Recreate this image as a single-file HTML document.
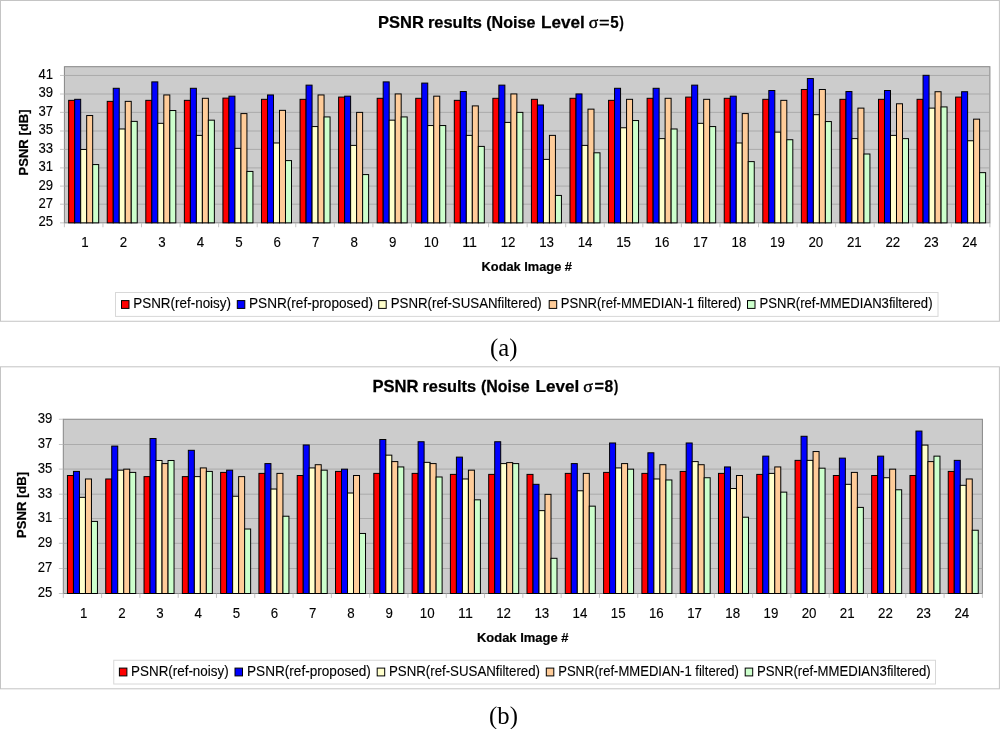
<!DOCTYPE html>
<html><head><meta charset="utf-8"><title>PSNR results</title>
<style>
html,body{margin:0;padding:0;background:#fff}
svg{display:block}
text{font-family:"Liberation Sans",sans-serif;fill:#000}
.t{font-size:13.9px;stroke:#000;stroke-width:0.12px}
.lt{font-size:14px;stroke:#000;stroke-width:0.12px}
.b{font-size:12.9px;font-weight:bold;stroke:#000;stroke-width:0.2px}
.title{font-size:16.6px;font-weight:bold;stroke:#000;stroke-width:0.25px}
.cap{font-family:"Liberation Serif",serif;font-size:24.7px}
</style></head><body>
<svg width="1000" height="729" viewBox="0 0 1000 729">
<rect width="1000" height="729" fill="#fff"/>
<rect x="0.5" y="0.5" width="998.9" height="320.75" fill="#fff" stroke="#c4c4c4" stroke-width="1"/>
<rect x="64.4" y="66.7" width="925.5" height="156.14999999999998" fill="#cccccc" stroke="#858585" stroke-width="1"/>
<line x1="60.00000000000001" y1="222.85" x2="64.4" y2="222.85" stroke="#b8b8b8" stroke-width="0.8"/>
<text x="38.4" y="226.25" class="t" textLength="14.6" lengthAdjust="spacingAndGlyphs">25</text>
<line x1="64.4" y1="204.20" x2="989.9" y2="204.20" stroke="#a2a2a2" stroke-width="0.8"/>
<line x1="60.00000000000001" y1="204.20" x2="64.4" y2="204.20" stroke="#b8b8b8" stroke-width="0.8"/>
<text x="38.4" y="207.60" class="t" textLength="14.6" lengthAdjust="spacingAndGlyphs">27</text>
<line x1="64.4" y1="186.10" x2="989.9" y2="186.10" stroke="#a2a2a2" stroke-width="0.8"/>
<line x1="60.00000000000001" y1="186.10" x2="64.4" y2="186.10" stroke="#b8b8b8" stroke-width="0.8"/>
<text x="38.4" y="189.50" class="t" textLength="14.6" lengthAdjust="spacingAndGlyphs">29</text>
<line x1="64.4" y1="167.90" x2="989.9" y2="167.90" stroke="#a2a2a2" stroke-width="0.8"/>
<line x1="60.00000000000001" y1="167.90" x2="64.4" y2="167.90" stroke="#b8b8b8" stroke-width="0.8"/>
<text x="38.4" y="171.30" class="t" textLength="14.6" lengthAdjust="spacingAndGlyphs">31</text>
<line x1="64.4" y1="149.40" x2="989.9" y2="149.40" stroke="#a2a2a2" stroke-width="0.8"/>
<line x1="60.00000000000001" y1="149.40" x2="64.4" y2="149.40" stroke="#b8b8b8" stroke-width="0.8"/>
<text x="38.4" y="152.80" class="t" textLength="14.6" lengthAdjust="spacingAndGlyphs">33</text>
<line x1="64.4" y1="131.00" x2="989.9" y2="131.00" stroke="#a2a2a2" stroke-width="0.8"/>
<line x1="60.00000000000001" y1="131.00" x2="64.4" y2="131.00" stroke="#b8b8b8" stroke-width="0.8"/>
<text x="38.4" y="134.40" class="t" textLength="14.6" lengthAdjust="spacingAndGlyphs">35</text>
<line x1="64.4" y1="112.35" x2="989.9" y2="112.35" stroke="#a2a2a2" stroke-width="0.8"/>
<line x1="60.00000000000001" y1="112.35" x2="64.4" y2="112.35" stroke="#b8b8b8" stroke-width="0.8"/>
<text x="38.4" y="115.75" class="t" textLength="14.6" lengthAdjust="spacingAndGlyphs">37</text>
<line x1="64.4" y1="94.00" x2="989.9" y2="94.00" stroke="#a2a2a2" stroke-width="0.8"/>
<line x1="60.00000000000001" y1="94.00" x2="64.4" y2="94.00" stroke="#b8b8b8" stroke-width="0.8"/>
<text x="38.4" y="97.40" class="t" textLength="14.6" lengthAdjust="spacingAndGlyphs">39</text>
<line x1="64.4" y1="75.45" x2="989.9" y2="75.45" stroke="#a2a2a2" stroke-width="0.8"/>
<line x1="60.00000000000001" y1="75.45" x2="64.4" y2="75.45" stroke="#b8b8b8" stroke-width="0.8"/>
<text x="38.4" y="78.85" class="t" textLength="14.6" lengthAdjust="spacingAndGlyphs">41</text>
<line x1="64.40" y1="222.85" x2="64.40" y2="227.25" stroke="#b8b8b8" stroke-width="0.8"/>
<line x1="102.96" y1="222.85" x2="102.96" y2="227.25" stroke="#b8b8b8" stroke-width="0.8"/>
<line x1="141.53" y1="222.85" x2="141.53" y2="227.25" stroke="#b8b8b8" stroke-width="0.8"/>
<line x1="180.09" y1="222.85" x2="180.09" y2="227.25" stroke="#b8b8b8" stroke-width="0.8"/>
<line x1="218.65" y1="222.85" x2="218.65" y2="227.25" stroke="#b8b8b8" stroke-width="0.8"/>
<line x1="257.21" y1="222.85" x2="257.21" y2="227.25" stroke="#b8b8b8" stroke-width="0.8"/>
<line x1="295.77" y1="222.85" x2="295.77" y2="227.25" stroke="#b8b8b8" stroke-width="0.8"/>
<line x1="334.34" y1="222.85" x2="334.34" y2="227.25" stroke="#b8b8b8" stroke-width="0.8"/>
<line x1="372.90" y1="222.85" x2="372.90" y2="227.25" stroke="#b8b8b8" stroke-width="0.8"/>
<line x1="411.46" y1="222.85" x2="411.46" y2="227.25" stroke="#b8b8b8" stroke-width="0.8"/>
<line x1="450.02" y1="222.85" x2="450.02" y2="227.25" stroke="#b8b8b8" stroke-width="0.8"/>
<line x1="488.59" y1="222.85" x2="488.59" y2="227.25" stroke="#b8b8b8" stroke-width="0.8"/>
<line x1="527.15" y1="222.85" x2="527.15" y2="227.25" stroke="#b8b8b8" stroke-width="0.8"/>
<line x1="565.71" y1="222.85" x2="565.71" y2="227.25" stroke="#b8b8b8" stroke-width="0.8"/>
<line x1="604.27" y1="222.85" x2="604.27" y2="227.25" stroke="#b8b8b8" stroke-width="0.8"/>
<line x1="642.84" y1="222.85" x2="642.84" y2="227.25" stroke="#b8b8b8" stroke-width="0.8"/>
<line x1="681.40" y1="222.85" x2="681.40" y2="227.25" stroke="#b8b8b8" stroke-width="0.8"/>
<line x1="719.96" y1="222.85" x2="719.96" y2="227.25" stroke="#b8b8b8" stroke-width="0.8"/>
<line x1="758.52" y1="222.85" x2="758.52" y2="227.25" stroke="#b8b8b8" stroke-width="0.8"/>
<line x1="797.09" y1="222.85" x2="797.09" y2="227.25" stroke="#b8b8b8" stroke-width="0.8"/>
<line x1="835.65" y1="222.85" x2="835.65" y2="227.25" stroke="#b8b8b8" stroke-width="0.8"/>
<line x1="874.21" y1="222.85" x2="874.21" y2="227.25" stroke="#b8b8b8" stroke-width="0.8"/>
<line x1="912.77" y1="222.85" x2="912.77" y2="227.25" stroke="#b8b8b8" stroke-width="0.8"/>
<line x1="951.34" y1="222.85" x2="951.34" y2="227.25" stroke="#b8b8b8" stroke-width="0.8"/>
<line x1="989.90" y1="222.85" x2="989.90" y2="227.25" stroke="#b8b8b8" stroke-width="0.8"/>
<rect x="68.68" y="100.34" width="6" height="122.51" fill="#ff0000" stroke="#000" stroke-width="1"/>
<rect x="74.68" y="99.32" width="6" height="123.53" fill="#0000ff" stroke="#000" stroke-width="1"/>
<rect x="80.68" y="149.46" width="6" height="73.39" fill="#ffffcc" stroke="#000" stroke-width="1"/>
<rect x="86.68" y="115.54" width="6" height="107.31" fill="#ffcc99" stroke="#000" stroke-width="1"/>
<rect x="92.68" y="164.57" width="6" height="58.28" fill="#ccffcc" stroke="#000" stroke-width="1"/>
<text x="81.25" y="247" class="t" textLength="7.4" lengthAdjust="spacingAndGlyphs">1</text>
<rect x="107.24" y="101.36" width="6" height="121.49" fill="#ff0000" stroke="#000" stroke-width="1"/>
<rect x="113.24" y="88.29" width="6" height="134.56" fill="#0000ff" stroke="#000" stroke-width="1"/>
<rect x="119.24" y="128.98" width="6" height="93.87" fill="#ffffcc" stroke="#000" stroke-width="1"/>
<rect x="125.24" y="101.36" width="6" height="121.49" fill="#ffcc99" stroke="#000" stroke-width="1"/>
<rect x="131.24" y="121.38" width="6" height="101.47" fill="#ccffcc" stroke="#000" stroke-width="1"/>
<text x="119.72" y="247" class="t" textLength="7.4" lengthAdjust="spacingAndGlyphs">2</text>
<rect x="145.81" y="100.34" width="6" height="122.51" fill="#ff0000" stroke="#000" stroke-width="1"/>
<rect x="151.81" y="81.89" width="6" height="140.96" fill="#0000ff" stroke="#000" stroke-width="1"/>
<rect x="157.81" y="123.33" width="6" height="99.52" fill="#ffffcc" stroke="#000" stroke-width="1"/>
<rect x="163.81" y="94.96" width="6" height="127.89" fill="#ffcc99" stroke="#000" stroke-width="1"/>
<rect x="169.81" y="110.53" width="6" height="112.32" fill="#ccffcc" stroke="#000" stroke-width="1"/>
<text x="158.19" y="247" class="t" textLength="7.4" lengthAdjust="spacingAndGlyphs">3</text>
<rect x="184.37" y="100.34" width="6" height="122.51" fill="#ff0000" stroke="#000" stroke-width="1"/>
<rect x="190.37" y="88.29" width="6" height="134.56" fill="#0000ff" stroke="#000" stroke-width="1"/>
<rect x="196.37" y="135.38" width="6" height="87.47" fill="#ffffcc" stroke="#000" stroke-width="1"/>
<rect x="202.37" y="98.30" width="6" height="124.55" fill="#ffcc99" stroke="#000" stroke-width="1"/>
<rect x="208.37" y="120.17" width="6" height="102.68" fill="#ccffcc" stroke="#000" stroke-width="1"/>
<text x="196.66" y="247" class="t" textLength="7.4" lengthAdjust="spacingAndGlyphs">4</text>
<rect x="222.93" y="98.11" width="6" height="124.74" fill="#ff0000" stroke="#000" stroke-width="1"/>
<rect x="228.93" y="96.17" width="6" height="126.68" fill="#0000ff" stroke="#000" stroke-width="1"/>
<rect x="234.93" y="148.35" width="6" height="74.50" fill="#ffffcc" stroke="#000" stroke-width="1"/>
<rect x="240.93" y="113.59" width="6" height="109.26" fill="#ffcc99" stroke="#000" stroke-width="1"/>
<rect x="246.93" y="171.43" width="6" height="51.42" fill="#ccffcc" stroke="#000" stroke-width="1"/>
<text x="235.13" y="247" class="t" textLength="7.4" lengthAdjust="spacingAndGlyphs">5</text>
<rect x="261.49" y="99.32" width="6" height="123.53" fill="#ff0000" stroke="#000" stroke-width="1"/>
<rect x="267.49" y="94.96" width="6" height="127.89" fill="#0000ff" stroke="#000" stroke-width="1"/>
<rect x="273.49" y="142.98" width="6" height="79.87" fill="#ffffcc" stroke="#000" stroke-width="1"/>
<rect x="279.49" y="110.35" width="6" height="112.50" fill="#ffcc99" stroke="#000" stroke-width="1"/>
<rect x="285.49" y="160.59" width="6" height="62.26" fill="#ccffcc" stroke="#000" stroke-width="1"/>
<text x="273.60" y="247" class="t" textLength="7.4" lengthAdjust="spacingAndGlyphs">6</text>
<rect x="300.06" y="99.32" width="6" height="123.53" fill="#ff0000" stroke="#000" stroke-width="1"/>
<rect x="306.06" y="85.14" width="6" height="137.71" fill="#0000ff" stroke="#000" stroke-width="1"/>
<rect x="312.06" y="126.57" width="6" height="96.28" fill="#ffffcc" stroke="#000" stroke-width="1"/>
<rect x="318.06" y="94.96" width="6" height="127.89" fill="#ffcc99" stroke="#000" stroke-width="1"/>
<rect x="324.06" y="116.93" width="6" height="105.92" fill="#ccffcc" stroke="#000" stroke-width="1"/>
<text x="312.07" y="247" class="t" textLength="7.4" lengthAdjust="spacingAndGlyphs">7</text>
<rect x="338.62" y="97.09" width="6" height="125.76" fill="#ff0000" stroke="#000" stroke-width="1"/>
<rect x="344.62" y="96.17" width="6" height="126.68" fill="#0000ff" stroke="#000" stroke-width="1"/>
<rect x="350.62" y="145.39" width="6" height="77.46" fill="#ffffcc" stroke="#000" stroke-width="1"/>
<rect x="356.62" y="112.39" width="6" height="110.46" fill="#ffcc99" stroke="#000" stroke-width="1"/>
<rect x="362.62" y="174.58" width="6" height="48.27" fill="#ccffcc" stroke="#000" stroke-width="1"/>
<text x="350.54" y="247" class="t" textLength="7.4" lengthAdjust="spacingAndGlyphs">8</text>
<rect x="377.18" y="98.30" width="6" height="124.55" fill="#ff0000" stroke="#000" stroke-width="1"/>
<rect x="383.18" y="81.89" width="6" height="140.96" fill="#0000ff" stroke="#000" stroke-width="1"/>
<rect x="389.18" y="120.17" width="6" height="102.68" fill="#ffffcc" stroke="#000" stroke-width="1"/>
<rect x="395.18" y="93.94" width="6" height="128.91" fill="#ffcc99" stroke="#000" stroke-width="1"/>
<rect x="401.18" y="116.93" width="6" height="105.92" fill="#ccffcc" stroke="#000" stroke-width="1"/>
<text x="389.01" y="247" class="t" textLength="7.4" lengthAdjust="spacingAndGlyphs">9</text>
<rect x="415.74" y="98.30" width="6" height="124.55" fill="#ff0000" stroke="#000" stroke-width="1"/>
<rect x="421.74" y="83.10" width="6" height="139.75" fill="#0000ff" stroke="#000" stroke-width="1"/>
<rect x="427.74" y="125.55" width="6" height="97.30" fill="#ffffcc" stroke="#000" stroke-width="1"/>
<rect x="433.74" y="96.17" width="6" height="126.68" fill="#ffcc99" stroke="#000" stroke-width="1"/>
<rect x="439.74" y="125.55" width="6" height="97.30" fill="#ccffcc" stroke="#000" stroke-width="1"/>
<text x="423.78" y="247" class="t" textLength="14.8" lengthAdjust="spacingAndGlyphs">10</text>
<rect x="454.31" y="100.34" width="6" height="122.51" fill="#ff0000" stroke="#000" stroke-width="1"/>
<rect x="460.31" y="91.53" width="6" height="131.32" fill="#0000ff" stroke="#000" stroke-width="1"/>
<rect x="466.31" y="135.38" width="6" height="87.47" fill="#ffffcc" stroke="#000" stroke-width="1"/>
<rect x="472.31" y="105.90" width="6" height="116.95" fill="#ffcc99" stroke="#000" stroke-width="1"/>
<rect x="478.31" y="146.41" width="6" height="76.44" fill="#ccffcc" stroke="#000" stroke-width="1"/>
<text x="462.25" y="247" class="t" textLength="14.8" lengthAdjust="spacingAndGlyphs">11</text>
<rect x="492.87" y="98.30" width="6" height="124.55" fill="#ff0000" stroke="#000" stroke-width="1"/>
<rect x="498.87" y="85.14" width="6" height="137.71" fill="#0000ff" stroke="#000" stroke-width="1"/>
<rect x="504.87" y="122.40" width="6" height="100.45" fill="#ffffcc" stroke="#000" stroke-width="1"/>
<rect x="510.87" y="93.94" width="6" height="128.91" fill="#ffcc99" stroke="#000" stroke-width="1"/>
<rect x="516.87" y="112.39" width="6" height="110.46" fill="#ccffcc" stroke="#000" stroke-width="1"/>
<text x="500.72" y="247" class="t" textLength="14.8" lengthAdjust="spacingAndGlyphs">12</text>
<rect x="531.43" y="99.32" width="6" height="123.53" fill="#ff0000" stroke="#000" stroke-width="1"/>
<rect x="537.43" y="104.97" width="6" height="117.88" fill="#0000ff" stroke="#000" stroke-width="1"/>
<rect x="543.43" y="159.38" width="6" height="63.47" fill="#ffffcc" stroke="#000" stroke-width="1"/>
<rect x="549.43" y="135.38" width="6" height="87.47" fill="#ffcc99" stroke="#000" stroke-width="1"/>
<rect x="555.43" y="195.44" width="6" height="27.41" fill="#ccffcc" stroke="#000" stroke-width="1"/>
<text x="539.19" y="247" class="t" textLength="14.8" lengthAdjust="spacingAndGlyphs">13</text>
<rect x="569.99" y="98.30" width="6" height="124.55" fill="#ff0000" stroke="#000" stroke-width="1"/>
<rect x="575.99" y="93.94" width="6" height="128.91" fill="#0000ff" stroke="#000" stroke-width="1"/>
<rect x="581.99" y="145.39" width="6" height="77.46" fill="#ffffcc" stroke="#000" stroke-width="1"/>
<rect x="587.99" y="109.14" width="6" height="113.71" fill="#ffcc99" stroke="#000" stroke-width="1"/>
<rect x="593.99" y="152.80" width="6" height="70.05" fill="#ccffcc" stroke="#000" stroke-width="1"/>
<text x="577.66" y="247" class="t" textLength="14.8" lengthAdjust="spacingAndGlyphs">14</text>
<rect x="608.56" y="100.34" width="6" height="122.51" fill="#ff0000" stroke="#000" stroke-width="1"/>
<rect x="614.56" y="88.29" width="6" height="134.56" fill="#0000ff" stroke="#000" stroke-width="1"/>
<rect x="620.56" y="127.77" width="6" height="95.08" fill="#ffffcc" stroke="#000" stroke-width="1"/>
<rect x="626.56" y="99.32" width="6" height="123.53" fill="#ffcc99" stroke="#000" stroke-width="1"/>
<rect x="632.56" y="120.54" width="6" height="102.31" fill="#ccffcc" stroke="#000" stroke-width="1"/>
<text x="616.13" y="247" class="t" textLength="14.8" lengthAdjust="spacingAndGlyphs">15</text>
<rect x="647.12" y="98.30" width="6" height="124.55" fill="#ff0000" stroke="#000" stroke-width="1"/>
<rect x="653.12" y="88.29" width="6" height="134.56" fill="#0000ff" stroke="#000" stroke-width="1"/>
<rect x="659.12" y="138.62" width="6" height="84.23" fill="#ffffcc" stroke="#000" stroke-width="1"/>
<rect x="665.12" y="98.30" width="6" height="124.55" fill="#ffcc99" stroke="#000" stroke-width="1"/>
<rect x="671.12" y="128.98" width="6" height="93.87" fill="#ccffcc" stroke="#000" stroke-width="1"/>
<text x="654.60" y="247" class="t" textLength="14.8" lengthAdjust="spacingAndGlyphs">16</text>
<rect x="685.68" y="97.09" width="6" height="125.76" fill="#ff0000" stroke="#000" stroke-width="1"/>
<rect x="691.68" y="85.14" width="6" height="137.71" fill="#0000ff" stroke="#000" stroke-width="1"/>
<rect x="697.68" y="123.33" width="6" height="99.52" fill="#ffffcc" stroke="#000" stroke-width="1"/>
<rect x="703.68" y="99.32" width="6" height="123.53" fill="#ffcc99" stroke="#000" stroke-width="1"/>
<rect x="709.68" y="126.57" width="6" height="96.28" fill="#ccffcc" stroke="#000" stroke-width="1"/>
<text x="693.07" y="247" class="t" textLength="14.8" lengthAdjust="spacingAndGlyphs">17</text>
<rect x="724.24" y="98.30" width="6" height="124.55" fill="#ff0000" stroke="#000" stroke-width="1"/>
<rect x="730.24" y="96.17" width="6" height="126.68" fill="#0000ff" stroke="#000" stroke-width="1"/>
<rect x="736.24" y="142.98" width="6" height="79.87" fill="#ffffcc" stroke="#000" stroke-width="1"/>
<rect x="742.24" y="113.59" width="6" height="109.26" fill="#ffcc99" stroke="#000" stroke-width="1"/>
<rect x="748.24" y="161.61" width="6" height="61.24" fill="#ccffcc" stroke="#000" stroke-width="1"/>
<text x="731.54" y="247" class="t" textLength="14.8" lengthAdjust="spacingAndGlyphs">18</text>
<rect x="762.81" y="99.32" width="6" height="123.53" fill="#ff0000" stroke="#000" stroke-width="1"/>
<rect x="768.81" y="90.51" width="6" height="132.34" fill="#0000ff" stroke="#000" stroke-width="1"/>
<rect x="774.81" y="132.13" width="6" height="90.72" fill="#ffffcc" stroke="#000" stroke-width="1"/>
<rect x="780.81" y="100.34" width="6" height="122.51" fill="#ffcc99" stroke="#000" stroke-width="1"/>
<rect x="786.81" y="139.73" width="6" height="83.12" fill="#ccffcc" stroke="#000" stroke-width="1"/>
<text x="770.01" y="247" class="t" textLength="14.8" lengthAdjust="spacingAndGlyphs">19</text>
<rect x="801.37" y="89.49" width="6" height="133.36" fill="#ff0000" stroke="#000" stroke-width="1"/>
<rect x="807.37" y="78.55" width="6" height="144.30" fill="#0000ff" stroke="#000" stroke-width="1"/>
<rect x="813.37" y="114.70" width="6" height="108.15" fill="#ffffcc" stroke="#000" stroke-width="1"/>
<rect x="819.37" y="89.49" width="6" height="133.36" fill="#ffcc99" stroke="#000" stroke-width="1"/>
<rect x="825.37" y="121.56" width="6" height="101.29" fill="#ccffcc" stroke="#000" stroke-width="1"/>
<text x="808.48" y="247" class="t" textLength="14.8" lengthAdjust="spacingAndGlyphs">20</text>
<rect x="839.93" y="99.32" width="6" height="123.53" fill="#ff0000" stroke="#000" stroke-width="1"/>
<rect x="845.93" y="91.53" width="6" height="131.32" fill="#0000ff" stroke="#000" stroke-width="1"/>
<rect x="851.93" y="138.62" width="6" height="84.23" fill="#ffffcc" stroke="#000" stroke-width="1"/>
<rect x="857.93" y="108.12" width="6" height="114.73" fill="#ffcc99" stroke="#000" stroke-width="1"/>
<rect x="863.93" y="154.01" width="6" height="68.84" fill="#ccffcc" stroke="#000" stroke-width="1"/>
<text x="846.95" y="247" class="t" textLength="14.8" lengthAdjust="spacingAndGlyphs">21</text>
<rect x="878.49" y="99.32" width="6" height="123.53" fill="#ff0000" stroke="#000" stroke-width="1"/>
<rect x="884.49" y="90.51" width="6" height="132.34" fill="#0000ff" stroke="#000" stroke-width="1"/>
<rect x="890.49" y="135.38" width="6" height="87.47" fill="#ffffcc" stroke="#000" stroke-width="1"/>
<rect x="896.49" y="103.77" width="6" height="119.08" fill="#ffcc99" stroke="#000" stroke-width="1"/>
<rect x="902.49" y="138.62" width="6" height="84.23" fill="#ccffcc" stroke="#000" stroke-width="1"/>
<text x="885.42" y="247" class="t" textLength="14.8" lengthAdjust="spacingAndGlyphs">22</text>
<rect x="917.06" y="99.32" width="6" height="123.53" fill="#ff0000" stroke="#000" stroke-width="1"/>
<rect x="923.06" y="75.31" width="6" height="147.54" fill="#0000ff" stroke="#000" stroke-width="1"/>
<rect x="929.06" y="108.12" width="6" height="114.73" fill="#ffffcc" stroke="#000" stroke-width="1"/>
<rect x="935.06" y="91.72" width="6" height="131.13" fill="#ffcc99" stroke="#000" stroke-width="1"/>
<rect x="941.06" y="106.92" width="6" height="115.93" fill="#ccffcc" stroke="#000" stroke-width="1"/>
<text x="923.89" y="247" class="t" textLength="14.8" lengthAdjust="spacingAndGlyphs">23</text>
<rect x="955.62" y="97.09" width="6" height="125.76" fill="#ff0000" stroke="#000" stroke-width="1"/>
<rect x="961.62" y="91.72" width="6" height="131.13" fill="#0000ff" stroke="#000" stroke-width="1"/>
<rect x="967.62" y="140.75" width="6" height="82.10" fill="#ffffcc" stroke="#000" stroke-width="1"/>
<rect x="973.62" y="119.15" width="6" height="103.70" fill="#ffcc99" stroke="#000" stroke-width="1"/>
<rect x="979.62" y="172.64" width="6" height="50.21" fill="#ccffcc" stroke="#000" stroke-width="1"/>
<text x="962.36" y="247" class="t" textLength="14.8" lengthAdjust="spacingAndGlyphs">24</text>
<text transform="translate(377.97,27.6) scale(0.9940,1)" style='font-size:16.6px;font-weight:bold;font-family:"Liberation Sans",sans-serif' stroke="#000" stroke-width="0.25">PSNR</text>
<text transform="translate(427.97,27.6) scale(0.9900,1)" style='font-size:16.6px;font-weight:bold;font-family:"Liberation Sans",sans-serif' stroke="#000" stroke-width="0.25">results</text>
<text transform="translate(486.25,27.6) scale(0.9689,1)" style='font-size:16.6px;font-weight:bold;font-family:"Liberation Sans",sans-serif' stroke="#000" stroke-width="0.25">(Noise</text>
<text transform="translate(540.93,27.6) scale(1.0339,1)" style='font-size:16.6px;font-weight:bold;font-family:"Liberation Sans",sans-serif' stroke="#000" stroke-width="0.25">Level</text>
<text transform="translate(588.85,27.7) scale(1.0602,1)" style='font-size:16.6px;font-weight:normal;font-family:"Liberation Serif",serif' stroke="#000" stroke-width="0.45">σ</text>
<text transform="translate(599.05,27.6) scale(1.0964,1)" style='font-size:16.6px;font-weight:normal;font-family:"Liberation Sans",sans-serif' stroke="#000" stroke-width="0.35">=</text>
<text transform="translate(610.36,27.6) scale(0.9113,1)" style='font-size:16.6px;font-weight:bold;font-family:"Liberation Sans",sans-serif' stroke="#000" stroke-width="0.25">5</text>
<text transform="translate(619.60,27.6) scale(0.7711,1)" style='font-size:16.6px;font-weight:bold;font-family:"Liberation Sans",sans-serif' stroke="#000" stroke-width="0.25">)</text>
<text x="481.6" y="271.3" class="b" textLength="90.4" lengthAdjust="spacingAndGlyphs">Kodak Image #</text>
<text transform="translate(28,175.5) rotate(-90)" class="b" textLength="66" lengthAdjust="spacingAndGlyphs">PSNR [dB]</text>
<rect x="115.5" y="292.5" width="822.5" height="23.899999999999977" fill="#fff" stroke="#d8d8d8" stroke-width="1"/>
<rect x="121.5" y="300.6" width="7.5" height="7.8" fill="#ff0000" stroke="#000" stroke-width="1"/>
<text x="133.25" y="308.3" class="lt" textLength="97.75" lengthAdjust="spacingAndGlyphs">PSNR(ref-noisy)</text>
<rect x="237.3" y="300.6" width="7.5" height="7.8" fill="#0000ff" stroke="#000" stroke-width="1"/>
<text x="249.0" y="308.3" class="lt" textLength="124" lengthAdjust="spacingAndGlyphs">PSNR(ref-proposed)</text>
<rect x="378.7" y="300.6" width="7.5" height="7.8" fill="#ffffcc" stroke="#000" stroke-width="1"/>
<text x="390.75" y="308.3" class="lt" textLength="151" lengthAdjust="spacingAndGlyphs">PSNR(ref-SUSANfiltered)</text>
<rect x="549.2" y="300.6" width="7.5" height="7.8" fill="#ffcc99" stroke="#000" stroke-width="1"/>
<text x="560.75" y="308.3" class="lt" textLength="180.5" lengthAdjust="spacingAndGlyphs">PSNR(ref-MMEDIAN-1 filtered)</text>
<rect x="747.5" y="300.6" width="7.5" height="7.8" fill="#ccffcc" stroke="#000" stroke-width="1"/>
<text x="759.5" y="308.3" class="lt" textLength="173" lengthAdjust="spacingAndGlyphs">PSNR(ref-MMEDIAN3filtered)</text>
<text x="503.7" y="356" text-anchor="middle" class="cap">(a)</text>
<rect x="0.5" y="366.8" width="998.9" height="321.99999999999994" fill="#fff" stroke="#c4c4c4" stroke-width="1"/>
<rect x="63.3" y="419.25" width="919.1" height="174.25" fill="#cccccc" stroke="#858585" stroke-width="1"/>
<line x1="58.9" y1="593.50" x2="63.3" y2="593.50" stroke="#b8b8b8" stroke-width="0.8"/>
<text x="37.699999999999996" y="596.90" class="t" textLength="14.6" lengthAdjust="spacingAndGlyphs">25</text>
<line x1="63.3" y1="568.50" x2="982.4" y2="568.50" stroke="#a2a2a2" stroke-width="0.8"/>
<line x1="58.9" y1="568.50" x2="63.3" y2="568.50" stroke="#b8b8b8" stroke-width="0.8"/>
<text x="37.699999999999996" y="571.90" class="t" textLength="14.6" lengthAdjust="spacingAndGlyphs">27</text>
<line x1="63.3" y1="543.30" x2="982.4" y2="543.30" stroke="#a2a2a2" stroke-width="0.8"/>
<line x1="58.9" y1="543.30" x2="63.3" y2="543.30" stroke="#b8b8b8" stroke-width="0.8"/>
<text x="37.699999999999996" y="546.70" class="t" textLength="14.6" lengthAdjust="spacingAndGlyphs">29</text>
<line x1="63.3" y1="518.50" x2="982.4" y2="518.50" stroke="#a2a2a2" stroke-width="0.8"/>
<line x1="58.9" y1="518.50" x2="63.3" y2="518.50" stroke="#b8b8b8" stroke-width="0.8"/>
<text x="37.699999999999996" y="521.90" class="t" textLength="14.6" lengthAdjust="spacingAndGlyphs">31</text>
<line x1="63.3" y1="494.20" x2="982.4" y2="494.20" stroke="#a2a2a2" stroke-width="0.8"/>
<line x1="58.9" y1="494.20" x2="63.3" y2="494.20" stroke="#b8b8b8" stroke-width="0.8"/>
<text x="37.699999999999996" y="497.60" class="t" textLength="14.6" lengthAdjust="spacingAndGlyphs">33</text>
<line x1="63.3" y1="469.10" x2="982.4" y2="469.10" stroke="#a2a2a2" stroke-width="0.8"/>
<line x1="58.9" y1="469.10" x2="63.3" y2="469.10" stroke="#b8b8b8" stroke-width="0.8"/>
<text x="37.699999999999996" y="472.50" class="t" textLength="14.6" lengthAdjust="spacingAndGlyphs">35</text>
<line x1="63.3" y1="444.50" x2="982.4" y2="444.50" stroke="#a2a2a2" stroke-width="0.8"/>
<line x1="58.9" y1="444.50" x2="63.3" y2="444.50" stroke="#b8b8b8" stroke-width="0.8"/>
<text x="37.699999999999996" y="447.90" class="t" textLength="14.6" lengthAdjust="spacingAndGlyphs">37</text>
<line x1="58.9" y1="419.25" x2="63.3" y2="419.25" stroke="#b8b8b8" stroke-width="0.8"/>
<text x="37.699999999999996" y="422.65" class="t" textLength="14.6" lengthAdjust="spacingAndGlyphs">39</text>
<line x1="63.30" y1="593.5" x2="63.30" y2="597.9" stroke="#b8b8b8" stroke-width="0.8"/>
<line x1="101.60" y1="593.5" x2="101.60" y2="597.9" stroke="#b8b8b8" stroke-width="0.8"/>
<line x1="139.89" y1="593.5" x2="139.89" y2="597.9" stroke="#b8b8b8" stroke-width="0.8"/>
<line x1="178.19" y1="593.5" x2="178.19" y2="597.9" stroke="#b8b8b8" stroke-width="0.8"/>
<line x1="216.48" y1="593.5" x2="216.48" y2="597.9" stroke="#b8b8b8" stroke-width="0.8"/>
<line x1="254.78" y1="593.5" x2="254.78" y2="597.9" stroke="#b8b8b8" stroke-width="0.8"/>
<line x1="293.07" y1="593.5" x2="293.07" y2="597.9" stroke="#b8b8b8" stroke-width="0.8"/>
<line x1="331.37" y1="593.5" x2="331.37" y2="597.9" stroke="#b8b8b8" stroke-width="0.8"/>
<line x1="369.67" y1="593.5" x2="369.67" y2="597.9" stroke="#b8b8b8" stroke-width="0.8"/>
<line x1="407.96" y1="593.5" x2="407.96" y2="597.9" stroke="#b8b8b8" stroke-width="0.8"/>
<line x1="446.26" y1="593.5" x2="446.26" y2="597.9" stroke="#b8b8b8" stroke-width="0.8"/>
<line x1="484.55" y1="593.5" x2="484.55" y2="597.9" stroke="#b8b8b8" stroke-width="0.8"/>
<line x1="522.85" y1="593.5" x2="522.85" y2="597.9" stroke="#b8b8b8" stroke-width="0.8"/>
<line x1="561.15" y1="593.5" x2="561.15" y2="597.9" stroke="#b8b8b8" stroke-width="0.8"/>
<line x1="599.44" y1="593.5" x2="599.44" y2="597.9" stroke="#b8b8b8" stroke-width="0.8"/>
<line x1="637.74" y1="593.5" x2="637.74" y2="597.9" stroke="#b8b8b8" stroke-width="0.8"/>
<line x1="676.03" y1="593.5" x2="676.03" y2="597.9" stroke="#b8b8b8" stroke-width="0.8"/>
<line x1="714.33" y1="593.5" x2="714.33" y2="597.9" stroke="#b8b8b8" stroke-width="0.8"/>
<line x1="752.62" y1="593.5" x2="752.62" y2="597.9" stroke="#b8b8b8" stroke-width="0.8"/>
<line x1="790.92" y1="593.5" x2="790.92" y2="597.9" stroke="#b8b8b8" stroke-width="0.8"/>
<line x1="829.22" y1="593.5" x2="829.22" y2="597.9" stroke="#b8b8b8" stroke-width="0.8"/>
<line x1="867.51" y1="593.5" x2="867.51" y2="597.9" stroke="#b8b8b8" stroke-width="0.8"/>
<line x1="905.81" y1="593.5" x2="905.81" y2="597.9" stroke="#b8b8b8" stroke-width="0.8"/>
<line x1="944.10" y1="593.5" x2="944.10" y2="597.9" stroke="#b8b8b8" stroke-width="0.8"/>
<line x1="982.40" y1="593.5" x2="982.40" y2="597.9" stroke="#b8b8b8" stroke-width="0.8"/>
<rect x="67.45" y="475.50" width="6" height="118.00" fill="#ff0000" stroke="#000" stroke-width="1"/>
<rect x="73.45" y="471.41" width="6" height="122.09" fill="#0000ff" stroke="#000" stroke-width="1"/>
<rect x="79.45" y="497.35" width="6" height="96.15" fill="#ffffcc" stroke="#000" stroke-width="1"/>
<rect x="85.45" y="478.98" width="6" height="114.52" fill="#ffcc99" stroke="#000" stroke-width="1"/>
<rect x="91.45" y="521.43" width="6" height="72.07" fill="#ccffcc" stroke="#000" stroke-width="1"/>
<text x="79.95" y="618" class="t" textLength="7.4" lengthAdjust="spacingAndGlyphs">1</text>
<rect x="105.74" y="478.98" width="6" height="114.52" fill="#ff0000" stroke="#000" stroke-width="1"/>
<rect x="111.74" y="446.09" width="6" height="147.41" fill="#0000ff" stroke="#000" stroke-width="1"/>
<rect x="117.74" y="470.17" width="6" height="123.33" fill="#ffffcc" stroke="#000" stroke-width="1"/>
<rect x="123.74" y="469.17" width="6" height="124.33" fill="#ffcc99" stroke="#000" stroke-width="1"/>
<rect x="129.74" y="472.40" width="6" height="121.10" fill="#ccffcc" stroke="#000" stroke-width="1"/>
<text x="118.13" y="618" class="t" textLength="7.4" lengthAdjust="spacingAndGlyphs">2</text>
<rect x="144.04" y="476.62" width="6" height="116.88" fill="#ff0000" stroke="#000" stroke-width="1"/>
<rect x="150.04" y="438.52" width="6" height="154.98" fill="#0000ff" stroke="#000" stroke-width="1"/>
<rect x="156.04" y="460.49" width="6" height="133.01" fill="#ffffcc" stroke="#000" stroke-width="1"/>
<rect x="162.04" y="463.59" width="6" height="129.91" fill="#ffcc99" stroke="#000" stroke-width="1"/>
<rect x="168.04" y="460.49" width="6" height="133.01" fill="#ccffcc" stroke="#000" stroke-width="1"/>
<text x="156.31" y="618" class="t" textLength="7.4" lengthAdjust="spacingAndGlyphs">3</text>
<rect x="182.34" y="476.62" width="6" height="116.88" fill="#ff0000" stroke="#000" stroke-width="1"/>
<rect x="188.34" y="450.31" width="6" height="143.19" fill="#0000ff" stroke="#000" stroke-width="1"/>
<rect x="194.34" y="476.62" width="6" height="116.88" fill="#ffffcc" stroke="#000" stroke-width="1"/>
<rect x="200.34" y="467.93" width="6" height="125.57" fill="#ffcc99" stroke="#000" stroke-width="1"/>
<rect x="206.34" y="471.41" width="6" height="122.09" fill="#ccffcc" stroke="#000" stroke-width="1"/>
<text x="194.49" y="618" class="t" textLength="7.4" lengthAdjust="spacingAndGlyphs">4</text>
<rect x="220.63" y="472.40" width="6" height="121.10" fill="#ff0000" stroke="#000" stroke-width="1"/>
<rect x="226.63" y="470.17" width="6" height="123.33" fill="#0000ff" stroke="#000" stroke-width="1"/>
<rect x="232.63" y="496.23" width="6" height="97.27" fill="#ffffcc" stroke="#000" stroke-width="1"/>
<rect x="238.63" y="476.62" width="6" height="116.88" fill="#ffcc99" stroke="#000" stroke-width="1"/>
<rect x="244.63" y="529.00" width="6" height="64.50" fill="#ccffcc" stroke="#000" stroke-width="1"/>
<text x="232.67" y="618" class="t" textLength="7.4" lengthAdjust="spacingAndGlyphs">5</text>
<rect x="258.93" y="473.39" width="6" height="120.11" fill="#ff0000" stroke="#000" stroke-width="1"/>
<rect x="264.93" y="463.59" width="6" height="129.91" fill="#0000ff" stroke="#000" stroke-width="1"/>
<rect x="270.93" y="489.03" width="6" height="104.47" fill="#ffffcc" stroke="#000" stroke-width="1"/>
<rect x="276.93" y="473.39" width="6" height="120.11" fill="#ffcc99" stroke="#000" stroke-width="1"/>
<rect x="282.93" y="516.22" width="6" height="77.28" fill="#ccffcc" stroke="#000" stroke-width="1"/>
<text x="270.85" y="618" class="t" textLength="7.4" lengthAdjust="spacingAndGlyphs">6</text>
<rect x="297.22" y="475.50" width="6" height="118.00" fill="#ff0000" stroke="#000" stroke-width="1"/>
<rect x="303.22" y="444.97" width="6" height="148.53" fill="#0000ff" stroke="#000" stroke-width="1"/>
<rect x="309.22" y="467.93" width="6" height="125.57" fill="#ffffcc" stroke="#000" stroke-width="1"/>
<rect x="315.22" y="464.71" width="6" height="128.79" fill="#ffcc99" stroke="#000" stroke-width="1"/>
<rect x="321.22" y="470.17" width="6" height="123.33" fill="#ccffcc" stroke="#000" stroke-width="1"/>
<text x="309.03" y="618" class="t" textLength="7.4" lengthAdjust="spacingAndGlyphs">7</text>
<rect x="335.52" y="471.41" width="6" height="122.09" fill="#ff0000" stroke="#000" stroke-width="1"/>
<rect x="341.52" y="469.17" width="6" height="124.33" fill="#0000ff" stroke="#000" stroke-width="1"/>
<rect x="347.52" y="493.01" width="6" height="100.49" fill="#ffffcc" stroke="#000" stroke-width="1"/>
<rect x="353.52" y="475.50" width="6" height="118.00" fill="#ffcc99" stroke="#000" stroke-width="1"/>
<rect x="359.52" y="533.47" width="6" height="60.03" fill="#ccffcc" stroke="#000" stroke-width="1"/>
<text x="347.21" y="618" class="t" textLength="7.4" lengthAdjust="spacingAndGlyphs">8</text>
<rect x="373.81" y="473.39" width="6" height="120.11" fill="#ff0000" stroke="#000" stroke-width="1"/>
<rect x="379.81" y="439.51" width="6" height="153.99" fill="#0000ff" stroke="#000" stroke-width="1"/>
<rect x="385.81" y="455.15" width="6" height="138.35" fill="#ffffcc" stroke="#000" stroke-width="1"/>
<rect x="391.81" y="461.60" width="6" height="131.90" fill="#ffcc99" stroke="#000" stroke-width="1"/>
<rect x="397.81" y="466.94" width="6" height="126.56" fill="#ccffcc" stroke="#000" stroke-width="1"/>
<text x="385.39" y="618" class="t" textLength="7.4" lengthAdjust="spacingAndGlyphs">9</text>
<rect x="412.11" y="473.39" width="6" height="120.11" fill="#ff0000" stroke="#000" stroke-width="1"/>
<rect x="418.11" y="441.74" width="6" height="151.76" fill="#0000ff" stroke="#000" stroke-width="1"/>
<rect x="424.11" y="462.35" width="6" height="131.15" fill="#ffffcc" stroke="#000" stroke-width="1"/>
<rect x="430.11" y="463.59" width="6" height="129.91" fill="#ffcc99" stroke="#000" stroke-width="1"/>
<rect x="436.11" y="476.99" width="6" height="116.51" fill="#ccffcc" stroke="#000" stroke-width="1"/>
<text x="419.87" y="618" class="t" textLength="14.8" lengthAdjust="spacingAndGlyphs">10</text>
<rect x="450.41" y="474.39" width="6" height="119.11" fill="#ff0000" stroke="#000" stroke-width="1"/>
<rect x="456.41" y="457.13" width="6" height="136.37" fill="#0000ff" stroke="#000" stroke-width="1"/>
<rect x="462.41" y="478.98" width="6" height="114.52" fill="#ffffcc" stroke="#000" stroke-width="1"/>
<rect x="468.41" y="470.17" width="6" height="123.33" fill="#ffcc99" stroke="#000" stroke-width="1"/>
<rect x="474.41" y="499.83" width="6" height="93.67" fill="#ccffcc" stroke="#000" stroke-width="1"/>
<text x="458.05" y="618" class="t" textLength="14.8" lengthAdjust="spacingAndGlyphs">11</text>
<rect x="488.70" y="474.39" width="6" height="119.11" fill="#ff0000" stroke="#000" stroke-width="1"/>
<rect x="494.70" y="441.74" width="6" height="151.76" fill="#0000ff" stroke="#000" stroke-width="1"/>
<rect x="500.70" y="463.59" width="6" height="129.91" fill="#ffffcc" stroke="#000" stroke-width="1"/>
<rect x="506.70" y="462.60" width="6" height="130.90" fill="#ffcc99" stroke="#000" stroke-width="1"/>
<rect x="512.70" y="463.59" width="6" height="129.91" fill="#ccffcc" stroke="#000" stroke-width="1"/>
<text x="496.23" y="618" class="t" textLength="14.8" lengthAdjust="spacingAndGlyphs">12</text>
<rect x="527.00" y="474.39" width="6" height="119.11" fill="#ff0000" stroke="#000" stroke-width="1"/>
<rect x="533.00" y="484.32" width="6" height="109.18" fill="#0000ff" stroke="#000" stroke-width="1"/>
<rect x="539.00" y="510.63" width="6" height="82.87" fill="#ffffcc" stroke="#000" stroke-width="1"/>
<rect x="545.00" y="494.37" width="6" height="99.13" fill="#ffcc99" stroke="#000" stroke-width="1"/>
<rect x="551.00" y="558.30" width="6" height="35.20" fill="#ccffcc" stroke="#000" stroke-width="1"/>
<text x="534.41" y="618" class="t" textLength="14.8" lengthAdjust="spacingAndGlyphs">13</text>
<rect x="565.29" y="473.39" width="6" height="120.11" fill="#ff0000" stroke="#000" stroke-width="1"/>
<rect x="571.29" y="463.59" width="6" height="129.91" fill="#0000ff" stroke="#000" stroke-width="1"/>
<rect x="577.29" y="490.77" width="6" height="102.73" fill="#ffffcc" stroke="#000" stroke-width="1"/>
<rect x="583.29" y="473.39" width="6" height="120.11" fill="#ffcc99" stroke="#000" stroke-width="1"/>
<rect x="589.29" y="506.16" width="6" height="87.34" fill="#ccffcc" stroke="#000" stroke-width="1"/>
<text x="572.59" y="618" class="t" textLength="14.8" lengthAdjust="spacingAndGlyphs">14</text>
<rect x="603.59" y="472.40" width="6" height="121.10" fill="#ff0000" stroke="#000" stroke-width="1"/>
<rect x="609.59" y="442.98" width="6" height="150.52" fill="#0000ff" stroke="#000" stroke-width="1"/>
<rect x="615.59" y="467.93" width="6" height="125.57" fill="#ffffcc" stroke="#000" stroke-width="1"/>
<rect x="621.59" y="463.59" width="6" height="129.91" fill="#ffcc99" stroke="#000" stroke-width="1"/>
<rect x="627.59" y="469.17" width="6" height="124.33" fill="#ccffcc" stroke="#000" stroke-width="1"/>
<text x="610.77" y="618" class="t" textLength="14.8" lengthAdjust="spacingAndGlyphs">15</text>
<rect x="641.89" y="473.39" width="6" height="120.11" fill="#ff0000" stroke="#000" stroke-width="1"/>
<rect x="647.89" y="452.79" width="6" height="140.71" fill="#0000ff" stroke="#000" stroke-width="1"/>
<rect x="653.89" y="478.98" width="6" height="114.52" fill="#ffffcc" stroke="#000" stroke-width="1"/>
<rect x="659.89" y="464.71" width="6" height="128.79" fill="#ffcc99" stroke="#000" stroke-width="1"/>
<rect x="665.89" y="479.97" width="6" height="113.53" fill="#ccffcc" stroke="#000" stroke-width="1"/>
<text x="648.95" y="618" class="t" textLength="14.8" lengthAdjust="spacingAndGlyphs">16</text>
<rect x="680.18" y="471.41" width="6" height="122.09" fill="#ff0000" stroke="#000" stroke-width="1"/>
<rect x="686.18" y="442.98" width="6" height="150.52" fill="#0000ff" stroke="#000" stroke-width="1"/>
<rect x="692.18" y="461.60" width="6" height="131.90" fill="#ffffcc" stroke="#000" stroke-width="1"/>
<rect x="698.18" y="464.71" width="6" height="128.79" fill="#ffcc99" stroke="#000" stroke-width="1"/>
<rect x="704.18" y="477.74" width="6" height="115.76" fill="#ccffcc" stroke="#000" stroke-width="1"/>
<text x="687.13" y="618" class="t" textLength="14.8" lengthAdjust="spacingAndGlyphs">17</text>
<rect x="718.48" y="473.39" width="6" height="120.11" fill="#ff0000" stroke="#000" stroke-width="1"/>
<rect x="724.48" y="466.94" width="6" height="126.56" fill="#0000ff" stroke="#000" stroke-width="1"/>
<rect x="730.48" y="488.54" width="6" height="104.96" fill="#ffffcc" stroke="#000" stroke-width="1"/>
<rect x="736.48" y="475.50" width="6" height="118.00" fill="#ffcc99" stroke="#000" stroke-width="1"/>
<rect x="742.48" y="517.21" width="6" height="76.29" fill="#ccffcc" stroke="#000" stroke-width="1"/>
<text x="725.31" y="618" class="t" textLength="14.8" lengthAdjust="spacingAndGlyphs">18</text>
<rect x="756.77" y="474.39" width="6" height="119.11" fill="#ff0000" stroke="#000" stroke-width="1"/>
<rect x="762.77" y="456.14" width="6" height="137.36" fill="#0000ff" stroke="#000" stroke-width="1"/>
<rect x="768.77" y="473.39" width="6" height="120.11" fill="#ffffcc" stroke="#000" stroke-width="1"/>
<rect x="774.77" y="466.94" width="6" height="126.56" fill="#ffcc99" stroke="#000" stroke-width="1"/>
<rect x="780.77" y="492.14" width="6" height="101.36" fill="#ccffcc" stroke="#000" stroke-width="1"/>
<text x="763.49" y="618" class="t" textLength="14.8" lengthAdjust="spacingAndGlyphs">19</text>
<rect x="795.07" y="460.36" width="6" height="133.14" fill="#ff0000" stroke="#000" stroke-width="1"/>
<rect x="801.07" y="436.28" width="6" height="157.22" fill="#0000ff" stroke="#000" stroke-width="1"/>
<rect x="807.07" y="460.36" width="6" height="133.14" fill="#ffffcc" stroke="#000" stroke-width="1"/>
<rect x="813.07" y="451.55" width="6" height="141.95" fill="#ffcc99" stroke="#000" stroke-width="1"/>
<rect x="819.07" y="468.18" width="6" height="125.32" fill="#ccffcc" stroke="#000" stroke-width="1"/>
<text x="801.67" y="618" class="t" textLength="14.8" lengthAdjust="spacingAndGlyphs">20</text>
<rect x="833.36" y="475.50" width="6" height="118.00" fill="#ff0000" stroke="#000" stroke-width="1"/>
<rect x="839.36" y="458.13" width="6" height="135.37" fill="#0000ff" stroke="#000" stroke-width="1"/>
<rect x="845.36" y="484.32" width="6" height="109.18" fill="#ffffcc" stroke="#000" stroke-width="1"/>
<rect x="851.36" y="472.40" width="6" height="121.10" fill="#ffcc99" stroke="#000" stroke-width="1"/>
<rect x="857.36" y="507.40" width="6" height="86.10" fill="#ccffcc" stroke="#000" stroke-width="1"/>
<text x="839.85" y="618" class="t" textLength="14.8" lengthAdjust="spacingAndGlyphs">21</text>
<rect x="871.66" y="475.50" width="6" height="118.00" fill="#ff0000" stroke="#000" stroke-width="1"/>
<rect x="877.66" y="456.14" width="6" height="137.36" fill="#0000ff" stroke="#000" stroke-width="1"/>
<rect x="883.66" y="477.74" width="6" height="115.76" fill="#ffffcc" stroke="#000" stroke-width="1"/>
<rect x="889.66" y="469.17" width="6" height="124.33" fill="#ffcc99" stroke="#000" stroke-width="1"/>
<rect x="895.66" y="489.78" width="6" height="103.72" fill="#ccffcc" stroke="#000" stroke-width="1"/>
<text x="878.03" y="618" class="t" textLength="14.8" lengthAdjust="spacingAndGlyphs">22</text>
<rect x="909.96" y="475.50" width="6" height="118.00" fill="#ff0000" stroke="#000" stroke-width="1"/>
<rect x="915.96" y="431.07" width="6" height="162.43" fill="#0000ff" stroke="#000" stroke-width="1"/>
<rect x="921.96" y="445.09" width="6" height="148.41" fill="#ffffcc" stroke="#000" stroke-width="1"/>
<rect x="927.96" y="461.60" width="6" height="131.90" fill="#ffcc99" stroke="#000" stroke-width="1"/>
<rect x="933.96" y="456.14" width="6" height="137.36" fill="#ccffcc" stroke="#000" stroke-width="1"/>
<text x="916.21" y="618" class="t" textLength="14.8" lengthAdjust="spacingAndGlyphs">23</text>
<rect x="948.25" y="471.41" width="6" height="122.09" fill="#ff0000" stroke="#000" stroke-width="1"/>
<rect x="954.25" y="460.36" width="6" height="133.14" fill="#0000ff" stroke="#000" stroke-width="1"/>
<rect x="960.25" y="485.31" width="6" height="108.19" fill="#ffffcc" stroke="#000" stroke-width="1"/>
<rect x="966.25" y="478.98" width="6" height="114.52" fill="#ffcc99" stroke="#000" stroke-width="1"/>
<rect x="972.25" y="530.24" width="6" height="63.26" fill="#ccffcc" stroke="#000" stroke-width="1"/>
<text x="954.39" y="618" class="t" textLength="14.8" lengthAdjust="spacingAndGlyphs">24</text>
<text transform="translate(372.46,392) scale(1.0007,1)" style='font-size:16.6px;font-weight:bold;font-family:"Liberation Sans",sans-serif' stroke="#000" stroke-width="0.25">PSNR</text>
<text transform="translate(422.48,392) scale(0.9862,1)" style='font-size:16.6px;font-weight:bold;font-family:"Liberation Sans",sans-serif' stroke="#000" stroke-width="0.25">results</text>
<text transform="translate(481.00,392) scale(0.9598,1)" style='font-size:16.6px;font-weight:bold;font-family:"Liberation Sans",sans-serif' stroke="#000" stroke-width="0.25">(Noise</text>
<text transform="translate(535.43,392) scale(1.0314,1)" style='font-size:16.6px;font-weight:bold;font-family:"Liberation Sans",sans-serif' stroke="#000" stroke-width="0.25">Level</text>
<text transform="translate(583.34,392.1) scale(1.0723,1)" style='font-size:16.6px;font-weight:normal;font-family:"Liberation Serif",serif' stroke="#000" stroke-width="0.45">σ</text>
<text transform="translate(594.50,392) scale(0.9697,1)" style='font-size:16.6px;font-weight:bold;font-family:"Liberation Sans",sans-serif' stroke="#000" stroke-width="0.25">=</text>
<text transform="translate(604.41,392) scale(0.9398,1)" style='font-size:16.6px;font-weight:bold;font-family:"Liberation Sans",sans-serif' stroke="#000" stroke-width="0.25">8</text>
<text transform="translate(614.10,392) scale(0.7711,1)" style='font-size:16.6px;font-weight:bold;font-family:"Liberation Sans",sans-serif' stroke="#000" stroke-width="0.25">)</text>
<text x="477" y="642" class="b" textLength="91.4" lengthAdjust="spacingAndGlyphs">Kodak Image #</text>
<text transform="translate(26,537.9) rotate(-90)" class="b" textLength="66" lengthAdjust="spacingAndGlyphs">PSNR [dB]</text>
<rect x="113.75" y="660.25" width="821.75" height="23.75" fill="#fff" stroke="#d8d8d8" stroke-width="1"/>
<rect x="119.4" y="668.1" width="7.5" height="7.8" fill="#ff0000" stroke="#000" stroke-width="1"/>
<text x="131.1" y="675.9" class="lt" textLength="97.5" lengthAdjust="spacingAndGlyphs">PSNR(ref-noisy)</text>
<rect x="235.0" y="668.1" width="7.5" height="7.8" fill="#0000ff" stroke="#000" stroke-width="1"/>
<text x="247.0" y="675.9" class="lt" textLength="123.9" lengthAdjust="spacingAndGlyphs">PSNR(ref-proposed)</text>
<rect x="377.2" y="668.1" width="7.5" height="7.8" fill="#ffffcc" stroke="#000" stroke-width="1"/>
<text x="389.0" y="675.9" class="lt" textLength="151" lengthAdjust="spacingAndGlyphs">PSNR(ref-SUSANfiltered)</text>
<rect x="546.3" y="668.1" width="7.5" height="7.8" fill="#ffcc99" stroke="#000" stroke-width="1"/>
<text x="558.2" y="675.9" class="lt" textLength="180.7" lengthAdjust="spacingAndGlyphs">PSNR(ref-MMEDIAN-1 filtered)</text>
<rect x="745.2" y="668.1" width="7.5" height="7.8" fill="#ccffcc" stroke="#000" stroke-width="1"/>
<text x="757.0" y="675.9" class="lt" textLength="173.7" lengthAdjust="spacingAndGlyphs">PSNR(ref-MMEDIAN3filtered)</text>
<text x="503.5" y="724" text-anchor="middle" class="cap">(b)</text>
</svg>
</body></html>
